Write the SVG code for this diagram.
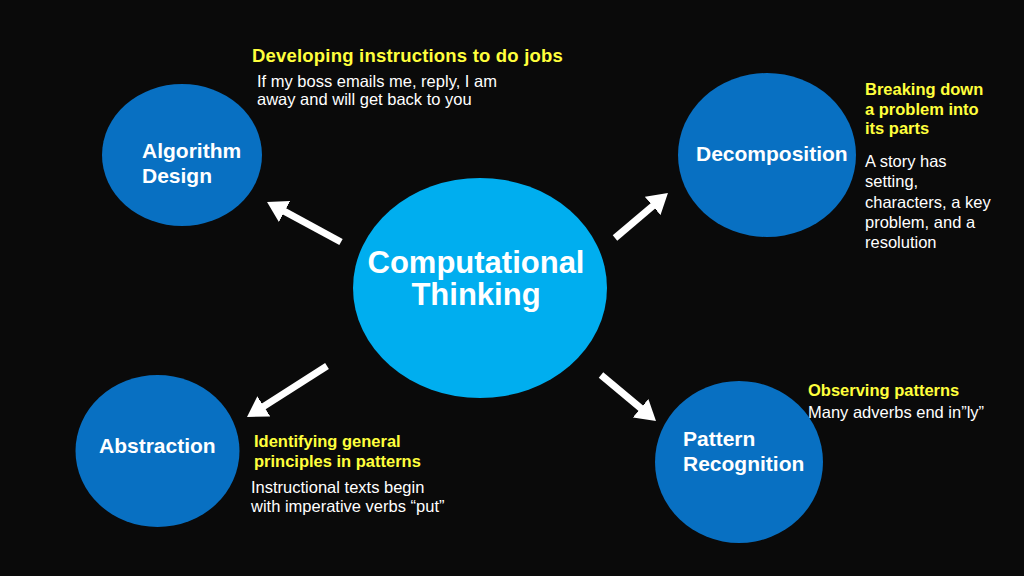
<svg xmlns="http://www.w3.org/2000/svg" width="1024" height="576" viewBox="0 0 1024 576">
<defs>
<style>
.bg{fill:#0a0a0a}
.node{fill:#0870c2}
.center{fill:#00aeef}
.lbl{font-family:"Liberation Sans",Arial,sans-serif;font-weight:bold;font-size:21px;fill:#ffffff}
.big{font-family:"Liberation Sans",Arial,sans-serif;font-weight:bold;font-size:31px;fill:#ffffff;text-anchor:middle}
.hd{font-family:"Liberation Sans",Arial,sans-serif;font-weight:bold;font-size:16.5px;fill:#ffff3c}
.tx{font-family:"Liberation Sans",Arial,sans-serif;font-size:16.5px;fill:#ffffff}
.arr{stroke:#ffffff;stroke-width:7;fill:none}
</style>
<marker id="ah" markerUnits="userSpaceOnUse" markerWidth="20" markerHeight="24" viewBox="0 0 20 24" refX="8" refY="12" orient="auto">
<path d="M0,0 L20,12 L0,24 z" fill="#ffffff"/>
</marker>
</defs>
<rect class="bg" x="0" y="0" width="1024" height="576"/>

<g id="connectors">
<line class="arr" x1="341" y1="242" x2="277.6" y2="207.7" marker-end="url(#ah)"/>
<line class="arr" x1="615" y1="238" x2="658.8" y2="200.8" marker-end="url(#ah)"/>
<line class="arr" x1="327" y1="366" x2="257.1" y2="410.6" marker-end="url(#ah)"/>
<line class="arr" x1="601" y1="375" x2="646.8" y2="413.3" marker-end="url(#ah)"/>
</g>

<g id="computational-thinking">
<ellipse class="center" cx="480" cy="288" rx="127" ry="110"/>
<text class="big" x="476" y="273">Computational</text>
<text class="big" x="476" y="305">Thinking</text>
</g>

<g id="algorithm-design">
<ellipse class="node" cx="182" cy="155" rx="80" ry="71"/>
<text class="lbl" x="142" y="158">Algorithm</text>
<text class="lbl" x="142" y="183">Design</text>
</g>

<g id="decomposition">
<ellipse class="node" cx="767" cy="155" rx="89" ry="82"/>
<text class="lbl" x="696" y="161">Decomposition</text>
</g>

<g id="abstraction">
<ellipse class="node" cx="157.5" cy="451" rx="82" ry="76"/>
<text class="lbl" x="99" y="453">Abstraction</text>
</g>

<g id="pattern-recognition">
<ellipse class="node" cx="739" cy="462" rx="84" ry="81"/>
<text class="lbl" x="683" y="446">Pattern</text>
<text class="lbl" x="683" y="471">Recognition</text>
</g>

<g id="algorithm-notes">
<text class="hd" x="252" y="62" style="font-size:18.5px;letter-spacing:0.2px">Developing instructions to do jobs</text>
<text class="tx" x="257" y="87">If my boss emails me, reply, I am</text>
<text class="tx" x="257" y="105">away and will get back to you</text>
</g>

<g id="decomposition-notes">
<text class="hd" x="865" y="95">Breaking down</text>
<text class="hd" x="865" y="115">a problem into</text>
<text class="hd" x="865" y="134">its parts</text>
<text class="tx" x="865" y="167">A story has</text>
<text class="tx" x="865" y="187">setting,</text>
<text class="tx" x="865" y="208">characters, a key</text>
<text class="tx" x="865" y="228">problem, and a</text>
<text class="tx" x="865" y="248">resolution</text>
</g>

<g id="pattern-notes">
<text class="hd" x="808" y="396">Observing patterns</text>
<text class="tx" x="808" y="418">Many adverbs end in”ly”</text>
</g>

<g id="abstraction-notes">
<text class="hd" x="254" y="447">Identifying general</text>
<text class="hd" x="254" y="467">principles in patterns</text>
<text class="tx" x="251" y="493">Instructional texts begin</text>
<text class="tx" x="251" y="512">with imperative verbs “put”</text>
</g>
</svg>
